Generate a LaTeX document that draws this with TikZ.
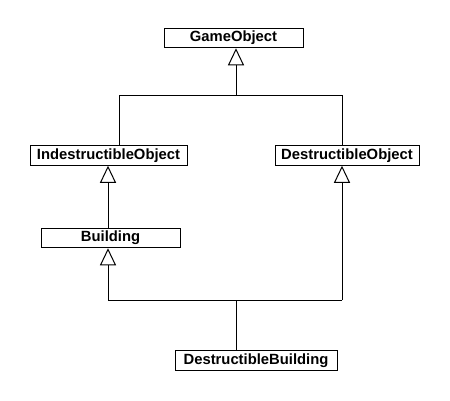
\documentclass[tikz,border=0pt]{standalone}
\usepackage{fontspec}
\setmainfont{Liberation Sans}
\usepackage{tikz}
\usetikzlibrary{arrows.meta,positioning}
\tikzset{
  classe/.style={draw,line width=1pt,inner sep=0pt,minimum height=19.5pt,
                 font=\fontsize{14.8}{17}\selectfont\bfseries},
  herit/.style={-{Triangle[open,length=17pt,width=16pt]},line width=1pt},
  lien/.style={line width=1pt},
}
\begin{document}
\begin{tikzpicture}[x=1pt,y=-1pt]
  \useasboundingbox[fill=white] (0,0) rectangle (450,400);
  \node[classe,minimum width=139pt] (go) at (233.5,38) {GameObject};
  \node[classe,minimum width=157pt] (io) at (108.5,155.5) {IndestructibleObject};
  \node[classe,minimum width=144pt] (do) at (347,155.5) {DestructibleObject};
  \node[classe,minimum width=139pt] (bu) at (110.5,238) {Building};
  \node[classe,minimum width=162pt] (db) at (256,360.5) {DestructibleBuilding};
  \coordinate (haut) at (236,95);
  \coordinate (hg) at (119,95);
  \coordinate (hd) at (342,95);
  \coordinate (bas) at (236,300);
  \coordinate (bg) at (108,300);
  \coordinate (bd) at (342,300);
  \draw[lien] (hg |- io.north) -- (hg) -- (hd) -- (hd |- do.north);
  \draw[herit] (haut) -- (haut |- go.south);
  \draw[herit] (bg |- bu.north) -- (bg |- io.south);
  \draw[lien] (bg) -- (bd);
  \draw[herit] (bg) -- (bg |- bu.south);
  \draw[herit] (bd) -- (bd |- do.south);
  \draw[lien] (bas |- db.north) -- (bas);
\end{tikzpicture}
\end{document}
